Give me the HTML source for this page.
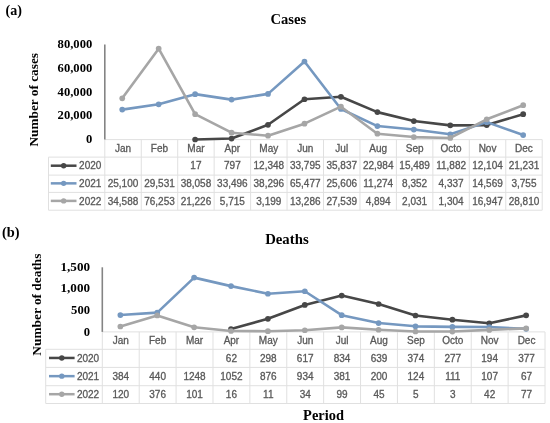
<!DOCTYPE html>
<html><head><meta charset="utf-8"><title>Cases and Deaths</title>
<style>html,body{margin:0;padding:0;background:#fff;width:550px;height:423px;overflow:hidden}svg{display:block}</style>
</head><body>
<svg width="550" height="423" viewBox="0 0 550 423"><text x="5.60" y="15.00" font-size="14" text-anchor="start" font-family="'Liberation Serif', serif" font-weight="bold" fill="#000" textLength="16.4" lengthAdjust="spacingAndGlyphs">(a)</text>
<text x="288.35" y="23.60" font-size="14" text-anchor="middle" font-family="'Liberation Serif', serif" font-weight="bold" fill="#000" textLength="35.6" lengthAdjust="spacingAndGlyphs">Cases</text>
<text transform="translate(38.2,99.8) rotate(-90)" x="0" y="0" font-size="13.5" text-anchor="middle" font-family="'Liberation Serif', serif" font-weight="bold" textLength="93.6" lengthAdjust="spacingAndGlyphs">Number of cases</text>
<g stroke="#e0e0e0" stroke-width="1"><line x1="104.80" y1="139.60" x2="542.20" y2="139.60"/><line x1="48.50" y1="157.10" x2="542.20" y2="157.10"/><line x1="48.50" y1="175.10" x2="542.20" y2="175.10"/><line x1="48.50" y1="192.40" x2="542.20" y2="192.40"/><line x1="48.50" y1="210.20" x2="542.20" y2="210.20"/><line x1="48.50" y1="157.10" x2="48.50" y2="210.20"/><line x1="104.80" y1="139.60" x2="104.80" y2="210.20"/><line x1="141.25" y1="139.60" x2="141.25" y2="210.20"/><line x1="177.70" y1="139.60" x2="177.70" y2="210.20"/><line x1="214.15" y1="139.60" x2="214.15" y2="210.20"/><line x1="250.60" y1="139.60" x2="250.60" y2="210.20"/><line x1="287.05" y1="139.60" x2="287.05" y2="210.20"/><line x1="323.50" y1="139.60" x2="323.50" y2="210.20"/><line x1="359.95" y1="139.60" x2="359.95" y2="210.20"/><line x1="396.40" y1="139.60" x2="396.40" y2="210.20"/><line x1="432.85" y1="139.60" x2="432.85" y2="210.20"/><line x1="469.30" y1="139.60" x2="469.30" y2="210.20"/><line x1="505.75" y1="139.60" x2="505.75" y2="210.20"/><line x1="542.20" y1="139.60" x2="542.20" y2="210.20"/></g>
<line x1="104.80" y1="44.50" x2="104.80" y2="139.60" stroke="#848484" stroke-width="1.6"/>
<text x="92.30" y="143.30" font-size="13" text-anchor="end" font-family="'Liberation Serif', serif" font-weight="bold" fill="#000" textLength="6.30" lengthAdjust="spacingAndGlyphs">0</text>
<text x="92.30" y="119.47" font-size="13" text-anchor="end" font-family="'Liberation Serif', serif" font-weight="bold" fill="#000" textLength="34.68" lengthAdjust="spacingAndGlyphs">20,000</text>
<text x="92.30" y="95.65" font-size="13" text-anchor="end" font-family="'Liberation Serif', serif" font-weight="bold" fill="#000" textLength="34.68" lengthAdjust="spacingAndGlyphs">40,000</text>
<text x="92.30" y="71.83" font-size="13" text-anchor="end" font-family="'Liberation Serif', serif" font-weight="bold" fill="#000" textLength="34.68" lengthAdjust="spacingAndGlyphs">60,000</text>
<text x="92.30" y="48.00" font-size="13" text-anchor="end" font-family="'Liberation Serif', serif" font-weight="bold" fill="#000" textLength="34.68" lengthAdjust="spacingAndGlyphs">80,000</text>
<polyline points="195.12,139.48 231.57,138.55 268.02,124.79 304.48,99.24 340.93,96.81 377.38,112.12 413.83,121.05 450.28,125.35 486.73,125.08 523.18,114.21" fill="none" stroke="#474747" stroke-width="2.6" stroke-linejoin="round" stroke-linecap="round"/>
<circle cx="195.12" cy="139.48" r="2.85" fill="#474747"/>
<circle cx="231.57" cy="138.55" r="2.85" fill="#474747"/>
<circle cx="268.02" cy="124.79" r="2.85" fill="#474747"/>
<circle cx="304.48" cy="99.24" r="2.85" fill="#474747"/>
<circle cx="340.93" cy="96.81" r="2.85" fill="#474747"/>
<circle cx="377.38" cy="112.12" r="2.85" fill="#474747"/>
<circle cx="413.83" cy="121.05" r="2.85" fill="#474747"/>
<circle cx="450.28" cy="125.35" r="2.85" fill="#474747"/>
<circle cx="486.73" cy="125.08" r="2.85" fill="#474747"/>
<circle cx="523.18" cy="114.21" r="2.85" fill="#474747"/>
<polyline points="122.23,109.60 158.67,104.32 195.12,94.16 231.57,99.60 268.02,93.88 304.48,61.50 340.93,109.00 377.38,126.07 413.83,129.55 450.28,134.33 486.73,122.14 523.18,135.03" fill="none" stroke="#7598c0" stroke-width="2.6" stroke-linejoin="round" stroke-linecap="round"/>
<circle cx="122.23" cy="109.60" r="2.85" fill="#7598c0"/>
<circle cx="158.67" cy="104.32" r="2.85" fill="#7598c0"/>
<circle cx="195.12" cy="94.16" r="2.85" fill="#7598c0"/>
<circle cx="231.57" cy="99.60" r="2.85" fill="#7598c0"/>
<circle cx="268.02" cy="93.88" r="2.85" fill="#7598c0"/>
<circle cx="304.48" cy="61.50" r="2.85" fill="#7598c0"/>
<circle cx="340.93" cy="109.00" r="2.85" fill="#7598c0"/>
<circle cx="377.38" cy="126.07" r="2.85" fill="#7598c0"/>
<circle cx="413.83" cy="129.55" r="2.85" fill="#7598c0"/>
<circle cx="450.28" cy="134.33" r="2.85" fill="#7598c0"/>
<circle cx="486.73" cy="122.14" r="2.85" fill="#7598c0"/>
<circle cx="523.18" cy="135.03" r="2.85" fill="#7598c0"/>
<polyline points="122.23,98.30 158.67,48.66 195.12,114.21 231.57,132.69 268.02,135.69 304.48,123.67 340.93,106.69 377.38,133.67 413.83,137.08 450.28,137.95 486.73,119.31 523.18,105.18" fill="none" stroke="#a6a6a6" stroke-width="2.6" stroke-linejoin="round" stroke-linecap="round"/>
<circle cx="122.23" cy="98.30" r="2.85" fill="#a6a6a6"/>
<circle cx="158.67" cy="48.66" r="2.85" fill="#a6a6a6"/>
<circle cx="195.12" cy="114.21" r="2.85" fill="#a6a6a6"/>
<circle cx="231.57" cy="132.69" r="2.85" fill="#a6a6a6"/>
<circle cx="268.02" cy="135.69" r="2.85" fill="#a6a6a6"/>
<circle cx="304.48" cy="123.67" r="2.85" fill="#a6a6a6"/>
<circle cx="340.93" cy="106.69" r="2.85" fill="#a6a6a6"/>
<circle cx="377.38" cy="133.67" r="2.85" fill="#a6a6a6"/>
<circle cx="413.83" cy="137.08" r="2.85" fill="#a6a6a6"/>
<circle cx="450.28" cy="137.95" r="2.85" fill="#a6a6a6"/>
<circle cx="486.73" cy="119.31" r="2.85" fill="#a6a6a6"/>
<circle cx="523.18" cy="105.18" r="2.85" fill="#a6a6a6"/>
<text x="123.03" y="151.55" font-size="10" text-anchor="middle" font-family="'Liberation Sans', sans-serif" font-weight="normal" fill="#595959" stroke="#595959" stroke-width="0.3">Jan</text>
<text x="159.47" y="151.55" font-size="10" text-anchor="middle" font-family="'Liberation Sans', sans-serif" font-weight="normal" fill="#595959" stroke="#595959" stroke-width="0.3">Feb</text>
<text x="195.93" y="151.55" font-size="10" text-anchor="middle" font-family="'Liberation Sans', sans-serif" font-weight="normal" fill="#595959" stroke="#595959" stroke-width="0.3">Mar</text>
<text x="232.38" y="151.55" font-size="10" text-anchor="middle" font-family="'Liberation Sans', sans-serif" font-weight="normal" fill="#595959" stroke="#595959" stroke-width="0.3">Apr</text>
<text x="268.82" y="151.55" font-size="10" text-anchor="middle" font-family="'Liberation Sans', sans-serif" font-weight="normal" fill="#595959" stroke="#595959" stroke-width="0.3">May</text>
<text x="305.28" y="151.55" font-size="10" text-anchor="middle" font-family="'Liberation Sans', sans-serif" font-weight="normal" fill="#595959" stroke="#595959" stroke-width="0.3">Jun</text>
<text x="341.73" y="151.55" font-size="10" text-anchor="middle" font-family="'Liberation Sans', sans-serif" font-weight="normal" fill="#595959" stroke="#595959" stroke-width="0.3">Jul</text>
<text x="378.18" y="151.55" font-size="10" text-anchor="middle" font-family="'Liberation Sans', sans-serif" font-weight="normal" fill="#595959" stroke="#595959" stroke-width="0.3">Aug</text>
<text x="414.63" y="151.55" font-size="10" text-anchor="middle" font-family="'Liberation Sans', sans-serif" font-weight="normal" fill="#595959" stroke="#595959" stroke-width="0.3">Sep</text>
<text x="451.08" y="151.55" font-size="10" text-anchor="middle" font-family="'Liberation Sans', sans-serif" font-weight="normal" fill="#595959" stroke="#595959" stroke-width="0.3">Octo</text>
<text x="487.53" y="151.55" font-size="10" text-anchor="middle" font-family="'Liberation Sans', sans-serif" font-weight="normal" fill="#595959" stroke="#595959" stroke-width="0.3">Nov</text>
<text x="523.98" y="151.55" font-size="10" text-anchor="middle" font-family="'Liberation Sans', sans-serif" font-weight="normal" fill="#595959" stroke="#595959" stroke-width="0.3">Dec</text>
<line x1="50.80" y1="165.70" x2="76.50" y2="165.70" stroke="#474747" stroke-width="2.5"/>
<circle cx="63.65" cy="165.70" r="2.7" fill="#474747"/>
<text x="79.10" y="169.30" font-size="10" text-anchor="start" font-family="'Liberation Sans', sans-serif" font-weight="normal" fill="#595959" stroke="#595959" stroke-width="0.3">2020</text>
<text x="195.93" y="169.30" font-size="10" text-anchor="middle" font-family="'Liberation Sans', sans-serif" font-weight="normal" fill="#595959" stroke="#595959" stroke-width="0.3">17</text>
<text x="232.38" y="169.30" font-size="10" text-anchor="middle" font-family="'Liberation Sans', sans-serif" font-weight="normal" fill="#595959" stroke="#595959" stroke-width="0.3">797</text>
<text x="268.82" y="169.30" font-size="10" text-anchor="middle" font-family="'Liberation Sans', sans-serif" font-weight="normal" fill="#595959" stroke="#595959" stroke-width="0.3">12,348</text>
<text x="305.28" y="169.30" font-size="10" text-anchor="middle" font-family="'Liberation Sans', sans-serif" font-weight="normal" fill="#595959" stroke="#595959" stroke-width="0.3">33,795</text>
<text x="341.73" y="169.30" font-size="10" text-anchor="middle" font-family="'Liberation Sans', sans-serif" font-weight="normal" fill="#595959" stroke="#595959" stroke-width="0.3">35,837</text>
<text x="378.18" y="169.30" font-size="10" text-anchor="middle" font-family="'Liberation Sans', sans-serif" font-weight="normal" fill="#595959" stroke="#595959" stroke-width="0.3">22,984</text>
<text x="414.63" y="169.30" font-size="10" text-anchor="middle" font-family="'Liberation Sans', sans-serif" font-weight="normal" fill="#595959" stroke="#595959" stroke-width="0.3">15,489</text>
<text x="451.08" y="169.30" font-size="10" text-anchor="middle" font-family="'Liberation Sans', sans-serif" font-weight="normal" fill="#595959" stroke="#595959" stroke-width="0.3">11,882</text>
<text x="487.53" y="169.30" font-size="10" text-anchor="middle" font-family="'Liberation Sans', sans-serif" font-weight="normal" fill="#595959" stroke="#595959" stroke-width="0.3">12,104</text>
<text x="523.98" y="169.30" font-size="10" text-anchor="middle" font-family="'Liberation Sans', sans-serif" font-weight="normal" fill="#595959" stroke="#595959" stroke-width="0.3">21,231</text>
<line x1="50.80" y1="183.35" x2="76.50" y2="183.35" stroke="#7598c0" stroke-width="2.5"/>
<circle cx="63.65" cy="183.35" r="2.7" fill="#7598c0"/>
<text x="79.10" y="186.95" font-size="10" text-anchor="start" font-family="'Liberation Sans', sans-serif" font-weight="normal" fill="#595959" stroke="#595959" stroke-width="0.3">2021</text>
<text x="123.03" y="186.95" font-size="10" text-anchor="middle" font-family="'Liberation Sans', sans-serif" font-weight="normal" fill="#595959" stroke="#595959" stroke-width="0.3">25,100</text>
<text x="159.47" y="186.95" font-size="10" text-anchor="middle" font-family="'Liberation Sans', sans-serif" font-weight="normal" fill="#595959" stroke="#595959" stroke-width="0.3">29,531</text>
<text x="195.93" y="186.95" font-size="10" text-anchor="middle" font-family="'Liberation Sans', sans-serif" font-weight="normal" fill="#595959" stroke="#595959" stroke-width="0.3">38,058</text>
<text x="232.38" y="186.95" font-size="10" text-anchor="middle" font-family="'Liberation Sans', sans-serif" font-weight="normal" fill="#595959" stroke="#595959" stroke-width="0.3">33,496</text>
<text x="268.82" y="186.95" font-size="10" text-anchor="middle" font-family="'Liberation Sans', sans-serif" font-weight="normal" fill="#595959" stroke="#595959" stroke-width="0.3">38,296</text>
<text x="305.28" y="186.95" font-size="10" text-anchor="middle" font-family="'Liberation Sans', sans-serif" font-weight="normal" fill="#595959" stroke="#595959" stroke-width="0.3">65,477</text>
<text x="341.73" y="186.95" font-size="10" text-anchor="middle" font-family="'Liberation Sans', sans-serif" font-weight="normal" fill="#595959" stroke="#595959" stroke-width="0.3">25,606</text>
<text x="378.18" y="186.95" font-size="10" text-anchor="middle" font-family="'Liberation Sans', sans-serif" font-weight="normal" fill="#595959" stroke="#595959" stroke-width="0.3">11,274</text>
<text x="414.63" y="186.95" font-size="10" text-anchor="middle" font-family="'Liberation Sans', sans-serif" font-weight="normal" fill="#595959" stroke="#595959" stroke-width="0.3">8,352</text>
<text x="451.08" y="186.95" font-size="10" text-anchor="middle" font-family="'Liberation Sans', sans-serif" font-weight="normal" fill="#595959" stroke="#595959" stroke-width="0.3">4,337</text>
<text x="487.53" y="186.95" font-size="10" text-anchor="middle" font-family="'Liberation Sans', sans-serif" font-weight="normal" fill="#595959" stroke="#595959" stroke-width="0.3">14,569</text>
<text x="523.98" y="186.95" font-size="10" text-anchor="middle" font-family="'Liberation Sans', sans-serif" font-weight="normal" fill="#595959" stroke="#595959" stroke-width="0.3">3,755</text>
<line x1="50.80" y1="200.90" x2="76.50" y2="200.90" stroke="#a6a6a6" stroke-width="2.5"/>
<circle cx="63.65" cy="200.90" r="2.7" fill="#a6a6a6"/>
<text x="79.10" y="204.50" font-size="10" text-anchor="start" font-family="'Liberation Sans', sans-serif" font-weight="normal" fill="#595959" stroke="#595959" stroke-width="0.3">2022</text>
<text x="123.03" y="204.50" font-size="10" text-anchor="middle" font-family="'Liberation Sans', sans-serif" font-weight="normal" fill="#595959" stroke="#595959" stroke-width="0.3">34,588</text>
<text x="159.47" y="204.50" font-size="10" text-anchor="middle" font-family="'Liberation Sans', sans-serif" font-weight="normal" fill="#595959" stroke="#595959" stroke-width="0.3">76,253</text>
<text x="195.93" y="204.50" font-size="10" text-anchor="middle" font-family="'Liberation Sans', sans-serif" font-weight="normal" fill="#595959" stroke="#595959" stroke-width="0.3">21,226</text>
<text x="232.38" y="204.50" font-size="10" text-anchor="middle" font-family="'Liberation Sans', sans-serif" font-weight="normal" fill="#595959" stroke="#595959" stroke-width="0.3">5,715</text>
<text x="268.82" y="204.50" font-size="10" text-anchor="middle" font-family="'Liberation Sans', sans-serif" font-weight="normal" fill="#595959" stroke="#595959" stroke-width="0.3">3,199</text>
<text x="305.28" y="204.50" font-size="10" text-anchor="middle" font-family="'Liberation Sans', sans-serif" font-weight="normal" fill="#595959" stroke="#595959" stroke-width="0.3">13,286</text>
<text x="341.73" y="204.50" font-size="10" text-anchor="middle" font-family="'Liberation Sans', sans-serif" font-weight="normal" fill="#595959" stroke="#595959" stroke-width="0.3">27,539</text>
<text x="378.18" y="204.50" font-size="10" text-anchor="middle" font-family="'Liberation Sans', sans-serif" font-weight="normal" fill="#595959" stroke="#595959" stroke-width="0.3">4,894</text>
<text x="414.63" y="204.50" font-size="10" text-anchor="middle" font-family="'Liberation Sans', sans-serif" font-weight="normal" fill="#595959" stroke="#595959" stroke-width="0.3">2,031</text>
<text x="451.08" y="204.50" font-size="10" text-anchor="middle" font-family="'Liberation Sans', sans-serif" font-weight="normal" fill="#595959" stroke="#595959" stroke-width="0.3">1,304</text>
<text x="487.53" y="204.50" font-size="10" text-anchor="middle" font-family="'Liberation Sans', sans-serif" font-weight="normal" fill="#595959" stroke="#595959" stroke-width="0.3">16,947</text>
<text x="523.98" y="204.50" font-size="10" text-anchor="middle" font-family="'Liberation Sans', sans-serif" font-weight="normal" fill="#595959" stroke="#595959" stroke-width="0.3">28,810</text>
<text x="1.90" y="237.20" font-size="14" text-anchor="start" font-family="'Liberation Serif', serif" font-weight="bold" fill="#000" textLength="17.6" lengthAdjust="spacingAndGlyphs">(b)</text>
<text x="286.90" y="243.60" font-size="14" text-anchor="middle" font-family="'Liberation Serif', serif" font-weight="bold" fill="#000" textLength="43.5" lengthAdjust="spacingAndGlyphs">Deaths</text>
<text transform="translate(40.8,304.6) rotate(-90)" x="0" y="0" font-size="13.5" text-anchor="middle" font-family="'Liberation Serif', serif" font-weight="bold" textLength="102.2" lengthAdjust="spacingAndGlyphs">Number of deaths</text>
<g stroke="#e0e0e0" stroke-width="1"><line x1="102.30" y1="331.90" x2="545.00" y2="331.90"/><line x1="45.70" y1="349.30" x2="545.00" y2="349.30"/><line x1="45.70" y1="367.40" x2="545.00" y2="367.40"/><line x1="45.70" y1="385.70" x2="545.00" y2="385.70"/><line x1="45.70" y1="403.50" x2="545.00" y2="403.50"/><line x1="45.70" y1="349.30" x2="45.70" y2="403.50"/><line x1="102.30" y1="331.90" x2="102.30" y2="403.50"/><line x1="139.19" y1="331.90" x2="139.19" y2="403.50"/><line x1="176.08" y1="331.90" x2="176.08" y2="403.50"/><line x1="212.97" y1="331.90" x2="212.97" y2="403.50"/><line x1="249.87" y1="331.90" x2="249.87" y2="403.50"/><line x1="286.76" y1="331.90" x2="286.76" y2="403.50"/><line x1="323.65" y1="331.90" x2="323.65" y2="403.50"/><line x1="360.54" y1="331.90" x2="360.54" y2="403.50"/><line x1="397.43" y1="331.90" x2="397.43" y2="403.50"/><line x1="434.32" y1="331.90" x2="434.32" y2="403.50"/><line x1="471.22" y1="331.90" x2="471.22" y2="403.50"/><line x1="508.11" y1="331.90" x2="508.11" y2="403.50"/><line x1="545.00" y1="331.90" x2="545.00" y2="403.50"/></g>
<line x1="102.30" y1="267.30" x2="102.30" y2="331.90" stroke="#848484" stroke-width="1.6"/>
<text x="90.00" y="335.50" font-size="13" text-anchor="end" font-family="'Liberation Serif', serif" font-weight="bold" fill="#000" textLength="6.30" lengthAdjust="spacingAndGlyphs">0</text>
<text x="90.00" y="313.83" font-size="13" text-anchor="end" font-family="'Liberation Serif', serif" font-weight="bold" fill="#000" textLength="18.91" lengthAdjust="spacingAndGlyphs">500</text>
<text x="90.00" y="292.17" font-size="13" text-anchor="end" font-family="'Liberation Serif', serif" font-weight="bold" fill="#000" textLength="29.51" lengthAdjust="spacingAndGlyphs">1,000</text>
<text x="90.00" y="270.50" font-size="13" text-anchor="end" font-family="'Liberation Serif', serif" font-weight="bold" fill="#000" textLength="29.51" lengthAdjust="spacingAndGlyphs">1,500</text>
<polyline points="231.02,329.01 267.91,318.79 304.80,304.96 341.70,295.56 378.59,304.01 415.48,315.49 452.37,319.70 489.26,323.29 526.15,315.36" fill="none" stroke="#474747" stroke-width="2.6" stroke-linejoin="round" stroke-linecap="round"/>
<circle cx="231.02" cy="329.01" r="2.85" fill="#474747"/>
<circle cx="267.91" cy="318.79" r="2.85" fill="#474747"/>
<circle cx="304.80" cy="304.96" r="2.85" fill="#474747"/>
<circle cx="341.70" cy="295.56" r="2.85" fill="#474747"/>
<circle cx="378.59" cy="304.01" r="2.85" fill="#474747"/>
<circle cx="415.48" cy="315.49" r="2.85" fill="#474747"/>
<circle cx="452.37" cy="319.70" r="2.85" fill="#474747"/>
<circle cx="489.26" cy="323.29" r="2.85" fill="#474747"/>
<circle cx="526.15" cy="315.36" r="2.85" fill="#474747"/>
<polyline points="120.35,315.06 157.24,312.63 194.13,277.62 231.02,286.11 267.91,293.74 304.80,291.23 341.70,315.19 378.59,323.03 415.48,326.33 452.37,326.89 489.26,327.06 526.15,328.80" fill="none" stroke="#7598c0" stroke-width="2.6" stroke-linejoin="round" stroke-linecap="round"/>
<circle cx="120.35" cy="315.06" r="2.85" fill="#7598c0"/>
<circle cx="157.24" cy="312.63" r="2.85" fill="#7598c0"/>
<circle cx="194.13" cy="277.62" r="2.85" fill="#7598c0"/>
<circle cx="231.02" cy="286.11" r="2.85" fill="#7598c0"/>
<circle cx="267.91" cy="293.74" r="2.85" fill="#7598c0"/>
<circle cx="304.80" cy="291.23" r="2.85" fill="#7598c0"/>
<circle cx="341.70" cy="315.19" r="2.85" fill="#7598c0"/>
<circle cx="378.59" cy="323.03" r="2.85" fill="#7598c0"/>
<circle cx="415.48" cy="326.33" r="2.85" fill="#7598c0"/>
<circle cx="452.37" cy="326.89" r="2.85" fill="#7598c0"/>
<circle cx="489.26" cy="327.06" r="2.85" fill="#7598c0"/>
<circle cx="526.15" cy="328.80" r="2.85" fill="#7598c0"/>
<polyline points="120.35,326.50 157.24,315.41 194.13,327.32 231.02,331.01 267.91,331.22 304.80,330.23 341.70,327.41 378.59,329.75 415.48,331.48 452.37,331.57 489.26,329.88 526.15,328.36" fill="none" stroke="#a6a6a6" stroke-width="2.6" stroke-linejoin="round" stroke-linecap="round"/>
<circle cx="120.35" cy="326.50" r="2.85" fill="#a6a6a6"/>
<circle cx="157.24" cy="315.41" r="2.85" fill="#a6a6a6"/>
<circle cx="194.13" cy="327.32" r="2.85" fill="#a6a6a6"/>
<circle cx="231.02" cy="331.01" r="2.85" fill="#a6a6a6"/>
<circle cx="267.91" cy="331.22" r="2.85" fill="#a6a6a6"/>
<circle cx="304.80" cy="330.23" r="2.85" fill="#a6a6a6"/>
<circle cx="341.70" cy="327.41" r="2.85" fill="#a6a6a6"/>
<circle cx="378.59" cy="329.75" r="2.85" fill="#a6a6a6"/>
<circle cx="415.48" cy="331.48" r="2.85" fill="#a6a6a6"/>
<circle cx="452.37" cy="331.57" r="2.85" fill="#a6a6a6"/>
<circle cx="489.26" cy="329.88" r="2.85" fill="#a6a6a6"/>
<circle cx="526.15" cy="328.36" r="2.85" fill="#a6a6a6"/>
<text x="120.75" y="343.80" font-size="10" text-anchor="middle" font-family="'Liberation Sans', sans-serif" font-weight="normal" fill="#595959" stroke="#595959" stroke-width="0.3">Jan</text>
<text x="157.64" y="343.80" font-size="10" text-anchor="middle" font-family="'Liberation Sans', sans-serif" font-weight="normal" fill="#595959" stroke="#595959" stroke-width="0.3">Feb</text>
<text x="194.53" y="343.80" font-size="10" text-anchor="middle" font-family="'Liberation Sans', sans-serif" font-weight="normal" fill="#595959" stroke="#595959" stroke-width="0.3">Mar</text>
<text x="231.42" y="343.80" font-size="10" text-anchor="middle" font-family="'Liberation Sans', sans-serif" font-weight="normal" fill="#595959" stroke="#595959" stroke-width="0.3">Apr</text>
<text x="268.31" y="343.80" font-size="10" text-anchor="middle" font-family="'Liberation Sans', sans-serif" font-weight="normal" fill="#595959" stroke="#595959" stroke-width="0.3">May</text>
<text x="305.20" y="343.80" font-size="10" text-anchor="middle" font-family="'Liberation Sans', sans-serif" font-weight="normal" fill="#595959" stroke="#595959" stroke-width="0.3">Jun</text>
<text x="342.10" y="343.80" font-size="10" text-anchor="middle" font-family="'Liberation Sans', sans-serif" font-weight="normal" fill="#595959" stroke="#595959" stroke-width="0.3">Jul</text>
<text x="378.99" y="343.80" font-size="10" text-anchor="middle" font-family="'Liberation Sans', sans-serif" font-weight="normal" fill="#595959" stroke="#595959" stroke-width="0.3">Aug</text>
<text x="415.88" y="343.80" font-size="10" text-anchor="middle" font-family="'Liberation Sans', sans-serif" font-weight="normal" fill="#595959" stroke="#595959" stroke-width="0.3">Sep</text>
<text x="452.77" y="343.80" font-size="10" text-anchor="middle" font-family="'Liberation Sans', sans-serif" font-weight="normal" fill="#595959" stroke="#595959" stroke-width="0.3">Octo</text>
<text x="489.66" y="343.80" font-size="10" text-anchor="middle" font-family="'Liberation Sans', sans-serif" font-weight="normal" fill="#595959" stroke="#595959" stroke-width="0.3">Nov</text>
<text x="526.55" y="343.80" font-size="10" text-anchor="middle" font-family="'Liberation Sans', sans-serif" font-weight="normal" fill="#595959" stroke="#595959" stroke-width="0.3">Dec</text>
<line x1="49.00" y1="357.95" x2="74.60" y2="357.95" stroke="#474747" stroke-width="2.5"/>
<circle cx="61.80" cy="357.95" r="2.7" fill="#474747"/>
<text x="76.90" y="361.55" font-size="10" text-anchor="start" font-family="'Liberation Sans', sans-serif" font-weight="normal" fill="#595959" stroke="#595959" stroke-width="0.3">2020</text>
<text x="231.42" y="361.55" font-size="10" text-anchor="middle" font-family="'Liberation Sans', sans-serif" font-weight="normal" fill="#595959" stroke="#595959" stroke-width="0.3">62</text>
<text x="268.31" y="361.55" font-size="10" text-anchor="middle" font-family="'Liberation Sans', sans-serif" font-weight="normal" fill="#595959" stroke="#595959" stroke-width="0.3">298</text>
<text x="305.20" y="361.55" font-size="10" text-anchor="middle" font-family="'Liberation Sans', sans-serif" font-weight="normal" fill="#595959" stroke="#595959" stroke-width="0.3">617</text>
<text x="342.10" y="361.55" font-size="10" text-anchor="middle" font-family="'Liberation Sans', sans-serif" font-weight="normal" fill="#595959" stroke="#595959" stroke-width="0.3">834</text>
<text x="378.99" y="361.55" font-size="10" text-anchor="middle" font-family="'Liberation Sans', sans-serif" font-weight="normal" fill="#595959" stroke="#595959" stroke-width="0.3">639</text>
<text x="415.88" y="361.55" font-size="10" text-anchor="middle" font-family="'Liberation Sans', sans-serif" font-weight="normal" fill="#595959" stroke="#595959" stroke-width="0.3">374</text>
<text x="452.77" y="361.55" font-size="10" text-anchor="middle" font-family="'Liberation Sans', sans-serif" font-weight="normal" fill="#595959" stroke="#595959" stroke-width="0.3">277</text>
<text x="489.66" y="361.55" font-size="10" text-anchor="middle" font-family="'Liberation Sans', sans-serif" font-weight="normal" fill="#595959" stroke="#595959" stroke-width="0.3">194</text>
<text x="526.55" y="361.55" font-size="10" text-anchor="middle" font-family="'Liberation Sans', sans-serif" font-weight="normal" fill="#595959" stroke="#595959" stroke-width="0.3">377</text>
<line x1="49.00" y1="376.15" x2="74.60" y2="376.15" stroke="#7598c0" stroke-width="2.5"/>
<circle cx="61.80" cy="376.15" r="2.7" fill="#7598c0"/>
<text x="76.90" y="379.75" font-size="10" text-anchor="start" font-family="'Liberation Sans', sans-serif" font-weight="normal" fill="#595959" stroke="#595959" stroke-width="0.3">2021</text>
<text x="120.75" y="379.75" font-size="10" text-anchor="middle" font-family="'Liberation Sans', sans-serif" font-weight="normal" fill="#595959" stroke="#595959" stroke-width="0.3">384</text>
<text x="157.64" y="379.75" font-size="10" text-anchor="middle" font-family="'Liberation Sans', sans-serif" font-weight="normal" fill="#595959" stroke="#595959" stroke-width="0.3">440</text>
<text x="194.53" y="379.75" font-size="10" text-anchor="middle" font-family="'Liberation Sans', sans-serif" font-weight="normal" fill="#595959" stroke="#595959" stroke-width="0.3">1248</text>
<text x="231.42" y="379.75" font-size="10" text-anchor="middle" font-family="'Liberation Sans', sans-serif" font-weight="normal" fill="#595959" stroke="#595959" stroke-width="0.3">1052</text>
<text x="268.31" y="379.75" font-size="10" text-anchor="middle" font-family="'Liberation Sans', sans-serif" font-weight="normal" fill="#595959" stroke="#595959" stroke-width="0.3">876</text>
<text x="305.20" y="379.75" font-size="10" text-anchor="middle" font-family="'Liberation Sans', sans-serif" font-weight="normal" fill="#595959" stroke="#595959" stroke-width="0.3">934</text>
<text x="342.10" y="379.75" font-size="10" text-anchor="middle" font-family="'Liberation Sans', sans-serif" font-weight="normal" fill="#595959" stroke="#595959" stroke-width="0.3">381</text>
<text x="378.99" y="379.75" font-size="10" text-anchor="middle" font-family="'Liberation Sans', sans-serif" font-weight="normal" fill="#595959" stroke="#595959" stroke-width="0.3">200</text>
<text x="415.88" y="379.75" font-size="10" text-anchor="middle" font-family="'Liberation Sans', sans-serif" font-weight="normal" fill="#595959" stroke="#595959" stroke-width="0.3">124</text>
<text x="452.77" y="379.75" font-size="10" text-anchor="middle" font-family="'Liberation Sans', sans-serif" font-weight="normal" fill="#595959" stroke="#595959" stroke-width="0.3">111</text>
<text x="489.66" y="379.75" font-size="10" text-anchor="middle" font-family="'Liberation Sans', sans-serif" font-weight="normal" fill="#595959" stroke="#595959" stroke-width="0.3">107</text>
<text x="526.55" y="379.75" font-size="10" text-anchor="middle" font-family="'Liberation Sans', sans-serif" font-weight="normal" fill="#595959" stroke="#595959" stroke-width="0.3">67</text>
<line x1="49.00" y1="394.20" x2="74.60" y2="394.20" stroke="#a6a6a6" stroke-width="2.5"/>
<circle cx="61.80" cy="394.20" r="2.7" fill="#a6a6a6"/>
<text x="76.90" y="397.80" font-size="10" text-anchor="start" font-family="'Liberation Sans', sans-serif" font-weight="normal" fill="#595959" stroke="#595959" stroke-width="0.3">2022</text>
<text x="120.75" y="397.80" font-size="10" text-anchor="middle" font-family="'Liberation Sans', sans-serif" font-weight="normal" fill="#595959" stroke="#595959" stroke-width="0.3">120</text>
<text x="157.64" y="397.80" font-size="10" text-anchor="middle" font-family="'Liberation Sans', sans-serif" font-weight="normal" fill="#595959" stroke="#595959" stroke-width="0.3">376</text>
<text x="194.53" y="397.80" font-size="10" text-anchor="middle" font-family="'Liberation Sans', sans-serif" font-weight="normal" fill="#595959" stroke="#595959" stroke-width="0.3">101</text>
<text x="231.42" y="397.80" font-size="10" text-anchor="middle" font-family="'Liberation Sans', sans-serif" font-weight="normal" fill="#595959" stroke="#595959" stroke-width="0.3">16</text>
<text x="268.31" y="397.80" font-size="10" text-anchor="middle" font-family="'Liberation Sans', sans-serif" font-weight="normal" fill="#595959" stroke="#595959" stroke-width="0.3">11</text>
<text x="305.20" y="397.80" font-size="10" text-anchor="middle" font-family="'Liberation Sans', sans-serif" font-weight="normal" fill="#595959" stroke="#595959" stroke-width="0.3">34</text>
<text x="342.10" y="397.80" font-size="10" text-anchor="middle" font-family="'Liberation Sans', sans-serif" font-weight="normal" fill="#595959" stroke="#595959" stroke-width="0.3">99</text>
<text x="378.99" y="397.80" font-size="10" text-anchor="middle" font-family="'Liberation Sans', sans-serif" font-weight="normal" fill="#595959" stroke="#595959" stroke-width="0.3">45</text>
<text x="415.88" y="397.80" font-size="10" text-anchor="middle" font-family="'Liberation Sans', sans-serif" font-weight="normal" fill="#595959" stroke="#595959" stroke-width="0.3">5</text>
<text x="452.77" y="397.80" font-size="10" text-anchor="middle" font-family="'Liberation Sans', sans-serif" font-weight="normal" fill="#595959" stroke="#595959" stroke-width="0.3">3</text>
<text x="489.66" y="397.80" font-size="10" text-anchor="middle" font-family="'Liberation Sans', sans-serif" font-weight="normal" fill="#595959" stroke="#595959" stroke-width="0.3">42</text>
<text x="526.55" y="397.80" font-size="10" text-anchor="middle" font-family="'Liberation Sans', sans-serif" font-weight="normal" fill="#595959" stroke="#595959" stroke-width="0.3">77</text>
<text x="323.50" y="419.70" font-size="14" text-anchor="middle" font-family="'Liberation Serif', serif" font-weight="bold" fill="#000" textLength="40.8" lengthAdjust="spacingAndGlyphs">Period</text></svg>
</body></html>
